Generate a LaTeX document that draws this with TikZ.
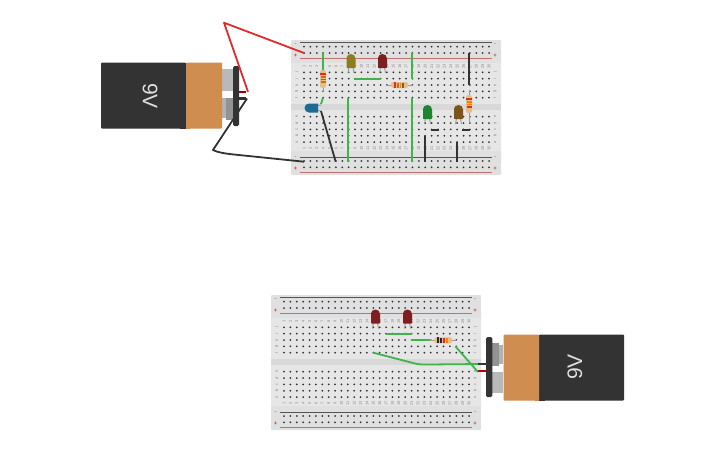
\documentclass[tikz,border=0pt]{standalone}
\usepackage{fontspec}
\setmainfont{Liberation Sans}
\definecolor{bbrail}{HTML}{E0E0E0}
\definecolor{bbmain}{HTML}{E6E6E6}
\definecolor{bbgap}{HTML}{D8D8D8}
\definecolor{hole}{HTML}{333333}
\definecolor{bblabel}{HTML}{8A8A8A}
\definecolor{railred}{HTML}{C07070}
\definecolor{railblack}{HTML}{555555}
\definecolor{wgreen}{HTML}{3DB54A}
\definecolor{wblack}{HTML}{333333}
\definecolor{wred}{HTML}{E02B2B}
\definecolor{batdark}{HTML}{333333}
\definecolor{batorange}{HTML}{CF8D50}
\definecolor{ledred}{HTML}{7E1E22}
\definecolor{ledolive}{HTML}{8C7C22}
\definecolor{ledbrown}{HTML}{7D5518}
\definecolor{ledgreen}{HTML}{1E8430}
\definecolor{ledblue}{HTML}{1F6A90}
\definecolor{resbody}{HTML}{E2C088}
\tikzset{
  x=1pt,y=-1pt,
  wire/.style={line width=1.8pt,line join=round},
  gw/.style={wire,draw=wgreen},
  kw/.style={wire,draw=wblack},
  rw/.style={wire,draw=wred},
  tinylab/.style={inner sep=0pt,text=bblabel,font=\fontsize{4}{4}\selectfont},
  signlab/.style={inner sep=0pt,font=\fontsize{6}{6}\selectfont},
  vlab/.style={inner sep=0pt,text=white!88!black,font=\fontsize{21}{21}\selectfont},
  leadline/.style={line width=0.9pt,draw=gray!80},
}
\newcommand{\bboard}[3]{%
\begin{scope}[shift={(#2,#3)}]
  \fill[bbrail,rounded corners=1pt] (0,0) rectangle (210,135);
  \fill[bbmain] (0,23) rectangle (210,64);
  \fill[bbmain] (0,70) rectangle (210,111);
  \fill[bbgap] (0,64) rectangle (210,70);
  \draw[railblack,line width=.8pt] (9,2.3) -- (201,2.3);
  \draw[railred,line width=.8pt] (9,18) -- (201,18);
  \draw[railblack,line width=.8pt] (9,117) -- (201,117);
  \draw[railred,line width=.8pt] (9,132.3) -- (201,132.3);
  \foreach \k in {0,...,29}{
    \pgfmathsetmacro{\cx}{13+6.38*\k}
    \foreach \cy in {6.7,13,32.3,38.65,45,51.35,57.7,76.7,83.05,89.4,95.75,102.1,121,127.3}
      \fill[hole] (\cx,\cy) circle (1);
    \pgfmathtruncatemacro{\num}{\k+1}
    \node[tinylab,rotate=90] (#1t\k) at (\cx,26) {\num};
    \node[tinylab,rotate=90] (#1b\k) at (\cx,108.3) {\num};
  }
  \foreach \l/\cy in {j/32.3,i/38.65,h/45,g/51.35,f/57.7,e/76.7,d/83.05,c/89.4,b/95.75,a/102.1}{
    \node[tinylab,rotate=90] (#1l\l) at (5.7,\cy) {\l};
    \node[tinylab,rotate=90] (#1r\l) at (204,\cy) {\l};
  }
  \node[signlab,text=black!60] (#1m1) at (4.7,5) {-};
  \node[signlab,text=black!60] (#1m2) at (204,5) {-};
  \node[signlab,text=red!70!black] (#1p1) at (4.7,15.7) {+};
  \node[signlab,text=red!70!black] (#1p2) at (204,15.7) {+};
  \node[signlab,text=black!60] (#1m3) at (4.7,118) {-};
  \node[signlab,text=black!60] (#1m4) at (204,118) {-};
  \node[signlab,text=red!70!black] (#1p3) at (4.7,129) {+};
  \node[signlab,text=red!70!black] (#1p4) at (204,129) {+};
\end{scope}}
\newcommand{\ledv}[3]{%
  \draw[leadline] (#1-1.8,#2+12) -- (#1-3,#2+19);
  \draw[leadline] (#1+1.8,#2+12) -- (#1+3,#2+19);
  \fill[#3,rounded corners=.6pt] (#1-4.5,#2+14) -- (#1-4.5,#2+4.5) {[sharp corners] arc[start angle=180,end angle=360,radius=4.5]} -- (#1+4.5,#2+14) -- cycle;}
\newcommand{\resh}[7]{%
  \draw[leadline] (#1-5,#3) -- (#2+5,#3);
  \fill[resbody,rounded corners=2.2pt] (#1,#3-3) rectangle (#2,#3+3);
  \fill[#4] (#1+3,#3-3) rectangle +(1.8,6);
  \fill[#5] (#1+5.8,#3-2.5) rectangle +(1.8,5);
  \fill[#6] (#1+8.6,#3-2.5) rectangle +(1.8,5);
  \fill[#7] (#1+11.4,#3-2.5) rectangle +(1.8,5);}
\newcommand{\resv}[7]{%
  \fill[resbody,rounded corners=2.2pt] (#1-3,#2) rectangle (#1+3,#3);
  \fill[#4] (#1-3,#2+3) rectangle +(6,1.8);
  \fill[#5] (#1-2.5,#2+5.8) rectangle +(5,1.8);
  \fill[#6] (#1-2.5,#2+8.6) rectangle +(5,1.8);
  \fill[#7] (#1-2.5,#2+11.4) rectangle +(5,1.8);}
\begin{document}
\begin{tikzpicture}
\path[use as bounding box,fill=white] (0,0) rectangle (725,453);

\bboard{a}{291}{40}
\bboard{c}{271}{295}

%% battery 1
\fill[gray!55] (222,69) rectangle (233,91);
\fill[gray!60] (222,98) rectangle (226,118);
\fill[gray!85] (226,98) rectangle (233,120);
\fill[batdark,rounded corners=1pt] (101,62.5) -- (186,62.5) -- (186,128.5) -- (101,128.5) -- cycle;
\fill[batorange,rounded corners=1pt] (186,62.5) -- (222,62.5) -- (222,128.5) -- (186,128.5) -- cycle;
\fill[batorange] (186,62.5) rectangle (190,128.5);
\fill[batdark] (180,62.5) rectangle (186,128.5);
\node[vlab,rotate=-90] (nineA) at (150,96) {9V};
\fill[batdark,rounded corners=1.5pt] (233,66) rectangle (239,126);
\fill[black!80] (239,97.3) rectangle (246,99.5);
\fill[red!60!black] (239,90.7) rectangle (246,92.9);

%% battery 2
\fill[gray!85] (492,343) rectangle (499,366);
\fill[gray!60] (499,345) rectangle (503,364);
\fill[gray!55] (492,372) rectangle (503,393);
\fill[batdark,rounded corners=1pt] (539,334.5) rectangle (624,400.5);
\fill[batdark] (539,334.5) rectangle (545,400.5);
\fill[batorange,rounded corners=1pt] (503.5,334.5) rectangle (539,400.5);
\fill[batorange] (535,334.5) rectangle (539,400.5);
\node[vlab,rotate=90] (nineB) at (575,367) {9V};

\coordinate (redOut) at (248,91.8);
\coordinate (redBend) at (224,22.7);
\coordinate (redIn) at (304,53);
\coordinate (blkOut) at (247,98.5);
\coordinate (blkBend) at (213,150);
\coordinate (blkIn) at (304,161.7);

%% components board 1
\draw[gw] (323,52.5) -- (323,71);
\draw[gw] (323,97.7) -- (321,104);
\draw[leadline] (323,85) -- (323,92);
\resv{323}{70}{88}{wred}{orange!85!black}{brown!80!black}{orange!85!black}
\draw[leadline] (315,106) -- (321,105);
\draw[leadline] (315,110) -- (321,111);
\fill[ledblue] (318,103.5) -- (309,103.5) arc[start angle=270,end angle=90,radius=4.5] -- (318,112.5) -- cycle;
\ledv{351}{54}{ledolive}
\ledv{382.5}{54}{ledred}
\draw[gw] (354,78.7) -- (381,78.7);
\resh{391}{408}{85}{wred}{orange!85!black}{orange}{brown!70!black}
\draw[gw] (412,52.5) -- (412,79);
\draw[gw] (348,97.5) -- (348,162);
\draw[gw] (412,97.5) -- (412,162);
\draw[kw] (321,111) -- (335.7,161.7);
\draw[kw] (469,52.5) -- (469,85);
\draw[leadline] (469,90) -- (469,123);
\resv{469}{95}{113}{wred}{orange}{orange}{wred}
\ledv{427.5}{105}{ledgreen}
\ledv{458.5}{105}{ledbrown}
\draw[kw] (430.7,129.7) -- (438.5,129.7);
\draw[kw] (462,129.7) -- (470,129.7);
\draw[kw] (425,135.7) -- (425,161.7);
\draw[kw] (456.7,142) -- (456.7,161.7);

%% battery wires
\draw[rw] (redOut) -- (redBend) -- (redIn);
\draw[kw] (blkOut) -- (blkBend) .. controls (218,152.5) and (225,153.5) .. (232,154.3) -- (blkIn);

%% components board 2
\ledv{375.5}{309.5}{ledred}
\ledv{407.5}{309.5}{ledred}
\draw[gw] (385.7,333.7) -- (411.7,333.7);
\draw[gw] (410.7,340.3) -- (430.7,340.3);
\resh{434.3}{452.3}{340.3}{black!85}{black!85}{wred}{orange}
\coordinate (gA) at (373.3,352.7);
\coordinate (gB) at (480,364);
\coordinate (gC) at (455.7,346.7);
\coordinate (gD) at (478,372);
\draw[gw] (gA) -- (415,363.5) .. controls (419,364.5) and (423,364.5) .. (428,364.5) -- (gB);
\draw[gw] (gC) -- (gD);
\fill[batdark,rounded corners=1.5pt] (486,337) rectangle (492.3,397);
\fill[black!80] (478,362.9) rectangle (486,365.1);
\fill[red!75!black] (478,369.6) rectangle (486,371.8);
\end{tikzpicture}
\end{document}
